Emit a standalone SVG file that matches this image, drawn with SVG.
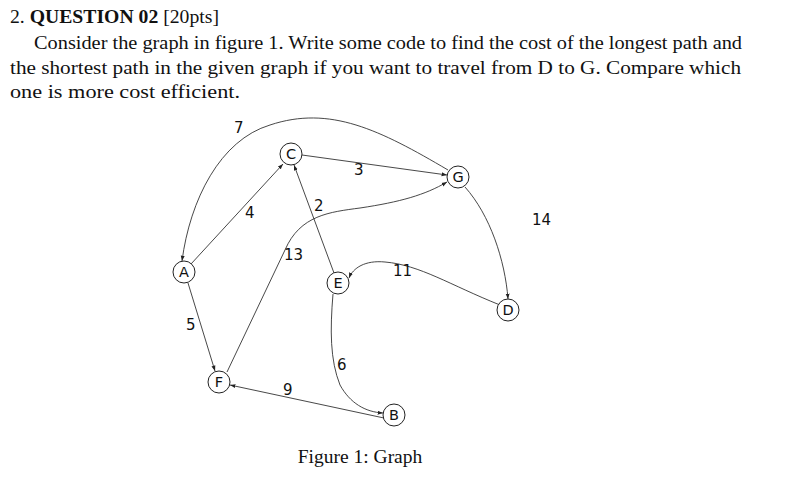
<svg xmlns="http://www.w3.org/2000/svg" width="785" height="486" viewBox="0 0 785 486">
<style>
.t{font-family:"Liberation Serif",serif;font-size:19.5px;fill:#111}
.n circle{fill:#fff;stroke:#222;stroke-width:1}
.n text{font-family:"DejaVu Sans",sans-serif;font-size:14.5px;text-anchor:middle;fill:#111}
.e path{fill:none;stroke:#333;stroke-width:0.9;marker-end:url(#ar)}
.l{font-family:"DejaVu Sans",sans-serif;font-size:15px;fill:#111}
</style>
<defs><marker id="ar" viewBox="0 0 6 6" refX="6" refY="3" markerWidth="6" markerHeight="6" orient="auto"><path d="M0,0.8 L6,3 L0,5.2z" fill="#222"/></marker></defs>
<rect width="785" height="486" fill="#fff"/>
<text class="t" x="10" y="23" textLength="209" lengthAdjust="spacingAndGlyphs">2. <tspan font-weight="bold">QUESTION 02</tspan> [20pts]</text>
<text class="t" x="34" y="49" textLength="708" lengthAdjust="spacingAndGlyphs">Consider the graph in figure 1. Write some code to find the cost of the longest path and</text>
<text class="t" x="10" y="74" textLength="731" lengthAdjust="spacingAndGlyphs">the shortest path in the given graph if you want to travel from D to G. Compare which</text>
<text class="t" x="10" y="98" textLength="230" lengthAdjust="spacingAndGlyphs">one is more cost efficient.</text>
<g class="e" id="edges">
<path d="M448,170 C380,130 330,105 270,125 C220,140 190,200 182,261"/>
<path d="M302,155 L447,175"/>
<path d="M191,264 L283,164"/>
<path d="M227,372 L285,250 C300,215 330,212 360,208 C400,202 425,195 447,182"/>
<path d="M334,273 L294,165"/>
<path d="M500,305 C450,285 420,265 385,262 C365,260 353,268 349,278"/>
<path d="M465,187 C490,215 505,260 508,299"/>
<path d="M188,283 L215,371"/>
<path d="M333,294 C330,330 330,360 340,385 C350,403 365,412 383,413"/>
<path d="M384,418 L230,385"/>
</g>
<g class="n" id="C"><circle cx="291" cy="154" r="11"/><text x="291" y="159">C</text></g>
<g class="n" id="G"><circle cx="458" cy="177" r="11"/><text x="458" y="182">G</text></g>
<g class="n" id="A"><circle cx="184" cy="272" r="11"/><text x="184" y="277">A</text></g>
<g class="n" id="E"><circle cx="338" cy="283" r="11"/><text x="338" y="288">E</text></g>
<g class="n" id="D"><circle cx="508" cy="310" r="11"/><text x="508" y="315">D</text></g>
<g class="n" id="F"><circle cx="219" cy="382" r="11"/><text x="219" y="387">F</text></g>
<g class="n" id="B"><circle cx="394" cy="415" r="11"/><text x="394" y="420">B</text></g>
<g id="labels">
<text class="l" x="234" y="133">7</text>
<text class="l" x="354" y="175">3</text>
<text class="l" x="245" y="218">4</text>
<text class="l" x="314" y="211">2</text>
<text class="l" x="284" y="260">13</text>
<text class="l" x="393" y="276">11</text>
<text class="l" x="532" y="225">14</text>
<text class="l" x="186" y="330">5</text>
<text class="l" x="337" y="370">6</text>
<text class="l" x="283" y="395">9</text>
</g>
<text class="t" x="360" y="463" text-anchor="middle">Figure 1: Graph</text>
</svg>
